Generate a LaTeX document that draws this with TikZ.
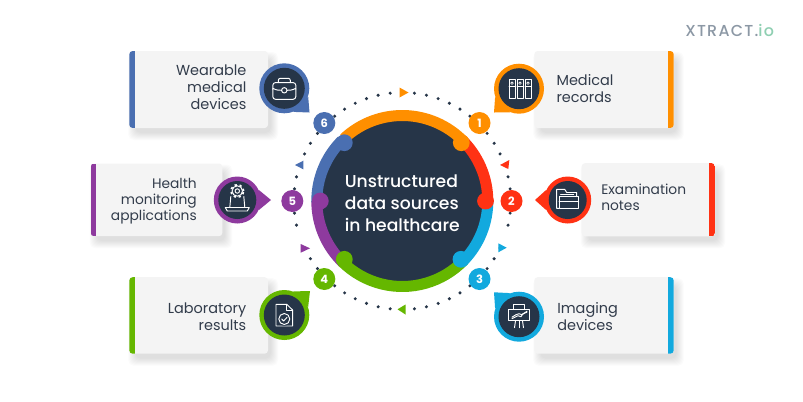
\documentclass[tikz,border=0pt]{standalone}
\usepackage{fontspec}
\setmainfont{Poppins}
\newfontfamily\pmed{Poppins Medium}
\usetikzlibrary{calc}
\definecolor{cOr}{HTML}{FF8F00}
\definecolor{cRe}{HTML}{FF3214}
\definecolor{cLb}{HTML}{12A9DE}
\definecolor{cGr}{HTML}{65B700}
\definecolor{cPu}{HTML}{8E3A9E}
\definecolor{cBl}{HTML}{4A6FB1}
\definecolor{cDk}{HTML}{263548}
\definecolor{cCard}{HTML}{F4F4F4}
\definecolor{cTxt}{HTML}{323C4B}
\definecolor{cLogo}{HTML}{8C98A5}
\definecolor{cIo}{HTML}{8FCFB2}
\tikzset{
  x=.75pt,y=.75pt,
  cardtext/.style={text=cTxt,font=\fontsize{10.85}{12.6}\selectfont,inner sep=0pt},
  smallcardtext/.style={text=cTxt,font=\fontsize{10.35}{12.1}\selectfont,inner sep=0pt},
  badge/.style={circle,fill=#1,minimum size=16.5pt,inner sep=0pt,text=white,font=\fontsize{8.6}{10}\selectfont\bfseries},
  icon/.style={draw=white,line width=.72pt,line join=round,line cap=round},
  tipmark/.style={fill=#1,draw=none},
  seg/.style={draw=#1,line width=8.25pt},
  cap/.style={circle,fill=#1,minimum size=12.6pt,inner sep=0pt},
}
% card: x0,y0,x1,y1, stripe side x0,x1, colour
\newcommand{\card}[7]{%
  \foreach \k in {0,...,7}{
    \fill[black,opacity=.015,rounded corners=4]
      ({#1+6-\k},{-(#2+8-\k)}) rectangle ({#3+3+\k},{-(#4+5+\k)});
  }
  \fill[cCard,rounded corners=2.5] (#1,-#2) rectangle (#3,-#4);
  \begin{scope}
    \clip[rounded corners=2.5] (#1,-#2) rectangle (#3,-#4);
    \fill[#7] (#5,-#2) rectangle (#6,-#4);
  \end{scope}
}
% pin: name,cx,cy,R,r,tipx,tipy,dir,colour
\newcommand{\pin}[9]{%
  \node[circle,fill=#9,inner sep=0pt,minimum size=#4*1.5pt] (#1) at (#2,-#3) {};
  \coordinate (#1tip) at (#6,-#7);
  \pgfmathsetmacro{\aa}{#8+25}\pgfmathsetmacro{\ab}{#8-25}
  \fill[#9] (#1tip) -- (#1.\aa) -- (#1.\ab) -- cycle;
  \node[circle,fill=cDk,inner sep=0pt,minimum size=#5*1.5pt] (#1in) at (#2,-#3) {};
}
\begin{document}
\begin{tikzpicture}
\useasboundingbox (0,0) rectangle (803,-401);
\fill[white] (0,0) rectangle (803,-401);

% cards
\card{129.3}{51}{268}{128}{129.3}{135.3}{cBl}
\card{90.7}{163.5}{222.3}{236.2}{90.7}{96}{cPu}
\card{129.3}{277.2}{268}{353.7}{129.3}{135.3}{cGr}
\card{534.3}{51}{673.7}{128}{668.3}{673.7}{cOr}
\card{581.7}{163.2}{715}{236.3}{709.2}{715}{cRe}
\card{534.3}{277.2}{673.7}{353.7}{668.3}{673.7}{cLb}

% card texts
\node[cardtext,align=right,anchor=east] (t6) at (246.7,-87.2) {Wearable\\medical\\devices};
\node[smallcardtext,align=right,anchor=east] (t5) at (197,-201.5) {Health\\monitoring\\applications};
\node[cardtext,align=right,anchor=east] (t4) at (246.5,-317) {Laboratory\\results};
\node[cardtext,align=left,anchor=west] (t1) at (556.3,-88.3) {Medical\\records};
\node[smallcardtext,align=left,anchor=west] (t2) at (601,-197.7) {Examination\\notes};
\node[cardtext,align=left,anchor=west] (t3) at (557,-316.2) {Imaging\\devices};

% pins
\pin{p6}{284.3}{88.3}{25}{20.5}{309.5}{112.5}{-44}{cBl}
\pin{p5}{237.3}{200}{23.5}{19}{271}{200}{0}{cPu}
\pin{p4}{284.3}{315}{25}{20.5}{310}{291}{44}{cGr}
\pin{p1}{519}{88.7}{25}{20.5}{494}{112.5}{-136}{cOr}
\pin{p2}{567.7}{200}{23.5}{19}{535}{200}{180}{cRe}
\pin{p3}{519}{316.7}{25}{20.5}{494}{292.3}{136}{cLb}

% icon: briefcase
\begin{scope}[shift={(284.3,-88.3)},icon]
  \draw[rounded corners=2] (-11.5,-1) -- (-11.5,5.7) -- (11.5,5.7) -- (11.5,-1);
  \draw[rounded corners=2] (-11.5,-1) -- (-11.5,-11) -- (11.5,-11) -- (11.5,-1);
  \draw[rounded corners=1.5] (-6,5.7) -- (-6,10) -- (6,10) -- (6,5.7);
  \draw (-11.5,0) .. controls (-8,-2) and (-5,-2) .. (-2.7,-2);
  \draw (11.5,0) .. controls (8,-2) and (5,-2) .. (2.7,-2);
  \draw (0,-2) circle (2.7);
\end{scope}
% icon: binders
\begin{scope}[shift={(519,-88.7)},icon]
  \foreach \q in {-10,-2,6}{
    \draw (\q,-10) rectangle (\q+6,9.5);
    \draw (\q,2) -- (\q+6,2);
    \draw[line width=.5pt] (\q+3,5.5) circle (1.3);
  }
\end{scope}
% icon: folder
\begin{scope}[shift={(567.7,-200)},icon]
  \draw (-8.5,-8.3) -- (-11,-8.3) -- (-11,10.7) -- (-3,10.7) -- (-1,7.5) -- (9,7.5) -- (9,3.3);
  \draw (-8.5,-8.3) rectangle (11,3.3);
  \draw (-8.5,-1) -- (11,-1);
  \draw (-7,6) -- (6,6);
\end{scope}
% icon: gear on laptop
\begin{scope}[shift={(237.3,-200)},icon]
  \draw (0,9) circle (5.2);
  \draw[line width=1.3pt,dash pattern=on 1.7pt off 2.1pt,line cap=butt] (0,9) circle (6.2);
  \draw (0,9) circle (2.2);
  \draw (-6.5,3.5) -- (-7.5,-7.5) -- (7.5,-7.5) -- (6.5,3.5);
  \draw (-12,-7.5) -- (12,-7.5) -- (10,-11) -- (-10,-11) -- cycle;
\end{scope}
% icon: document with check
\begin{scope}[shift={(284.3,-315)},icon]
  \draw (-8.3,-11) -- (-8.3,10.7) -- (2.5,10.7) -- (8.3,5) -- (8.3,-11) -- cycle;
  \draw (2.5,10.7) -- (2.5,5) -- (8.3,5);
  \fill[cDk] (0,-4) circle (6.7);
  \draw (0,-4) circle (5.5);
  \draw (-2.6,-4) -- (-.7,-6) -- (2.8,-2.3);
\end{scope}
% icon: chart board
\begin{scope}[shift={(519,-316.7)},icon]
  \draw (-10.7,7.5) rectangle (10.7,-4);
  \draw (-5.7,12) rectangle (5.5,7.5);
  \draw (-7,-2) -- (-3,0) -- (-1,1) -- (2,0) -- (4,3) -- (8,4.5);
  \draw (-7,-.5) -- (-3,2) -- (0,3) -- (3,2) -- (8,5.5);
  \draw (-3.5,-4) -- (-4.5,-11);
  \draw (3.5,-4) -- (4.5,-11);
  \draw (0,-4) -- (0,-11);
\end{scope}

% dotted circle
\coordinate (cc) at (402.3,-201);
\foreach \n in {0,...,55}{
  \ifnum\n=3 \else\ifnum\n=14 \else\ifnum\n=25 \else\ifnum\n=31 \else\ifnum\n=42 \else\ifnum\n=53 \else
    \fill[cDk] ($(cc)+({\n*6.42857}:108.5)$) circle (1.7);
  \fi\fi\fi\fi\fi\fi
}
% small triangles
\fill[tipmark=cOr] (399.5,-87.5) -- (408.5,-92.5) -- (399.5,-97.5) -- cycle;
\fill[tipmark=cRe] (500,-165) -- (509.3,-160) -- (508.3,-169) -- cycle;
\fill[tipmark=cLb] (498.3,-243.3) -- (506.7,-247.7) -- (498.3,-252.3) -- cycle;
\fill[tipmark=cGr] (397.5,-309.3) -- (405.5,-304.5) -- (405.5,-314.5) -- cycle;
\fill[tipmark=cPu] (300.7,-244) -- (310,-248.3) -- (300.7,-252.7) -- cycle;
\fill[tipmark=cBl] (295,-165) -- (303.3,-160.7) -- (303.3,-169.3) -- cycle;

% number badges
\node[badge=cOr] (n1) at (479.5,-123) {1};
\node[badge=cRe] (n2) at (511.5,-201) {2};
\node[badge=cLb] (n3) at (479.5,-279) {3};
\node[badge=cGr] (n4) at (324.3,-279) {4};
\node[badge=cPu] (n5) at (292.3,-201) {5};
\node[badge=cBl] (n6) at (324.3,-123) {6};

% central disc and ring
\node[circle,fill=cDk,inner sep=0pt,minimum size=122pt] (hub) at (402.3,-201) {};
\begin{scope}[shift={(402.3,-201)}]
  \draw[seg=cOr] (133:85.5) arc[start angle=133,end angle=44,radius=85.5];
  \draw[seg=cRe] (46:85.5) arc[start angle=46,end angle=0,radius=85.5];
  \draw[seg=cLb] (1:85.5) arc[start angle=1,end angle=-45,radius=85.5];
  \draw[seg=cGr] (-44:85.5) arc[start angle=-44,end angle=-135,radius=85.5];
  \draw[seg=cPu] (-134:85.5) arc[start angle=-134,end angle=-180,radius=85.5];
  \draw[seg=cBl] (181:85.5) arc[start angle=181,end angle=135,radius=85.5];
\end{scope}
\node[cap=cOr] (c1) at (461.3,-142.7) {};
\node[cap=cRe] (c2) at (485.5,-201) {};
\node[cap=cLb] (c3) at (461,-259.3) {};
\node[cap=cGr] (c4) at (344.3,-259.3) {};
\node[cap=cPu] (c5) at (320.3,-201) {};
\node[cap=cBl] (c6) at (344.3,-142.7) {};

\node[align=left,anchor=center,text=white,inner sep=0pt,font=\pmed\fontsize{12.9}{16.5}\selectfont] (title) at (402.3,-203.3) {Unstructured\\data sources\\in healthcare};

% logo
\node[anchor=west,inner sep=0pt,text=cLogo,font=\pmed\fontsize{11.9}{13}\selectfont] (logo) at (685,-30) {\addfontfeatures{LetterSpace=8}XTRACT.\textcolor{cIo}{io}};
\end{tikzpicture}
\end{document}
